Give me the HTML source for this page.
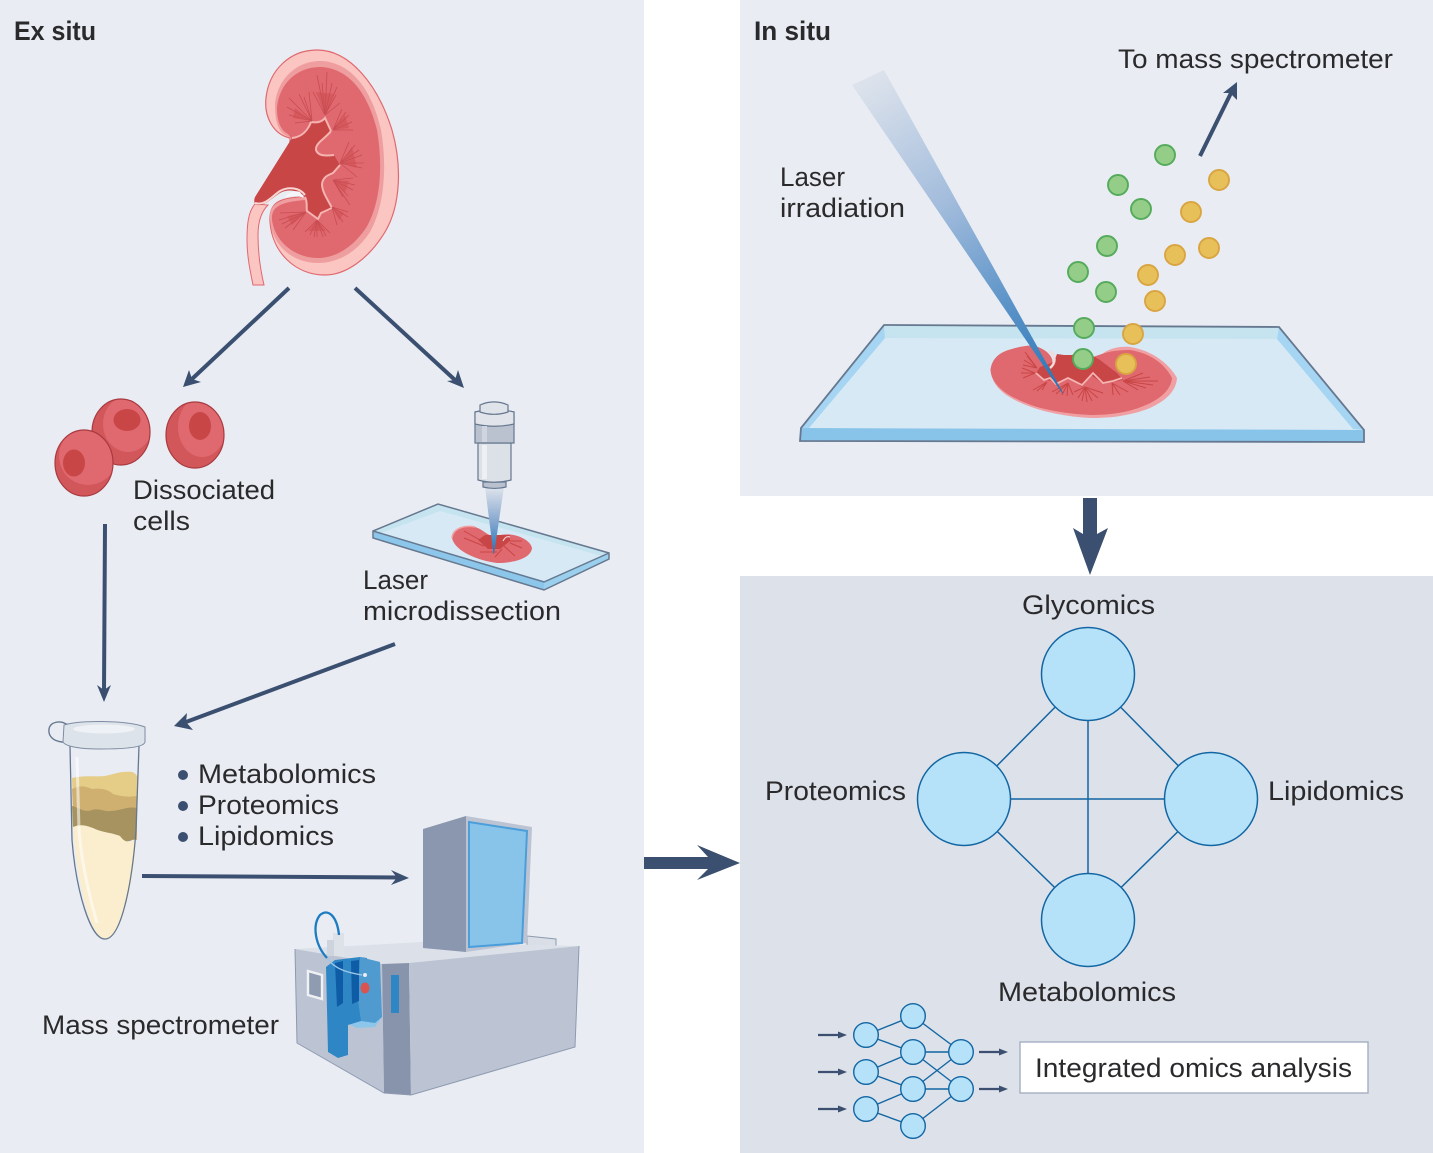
<!DOCTYPE html>
<html><head><meta charset="utf-8">
<style>
html,body{margin:0;padding:0;background:#fff}
svg{display:block}
text{font-family:"Liberation Sans",sans-serif;font-size:27px;fill:#2a2a2c}
</style></head>
<body>
<svg width="1433" height="1153" viewBox="0 0 1433 1153" xmlns="http://www.w3.org/2000/svg">
<defs>
<linearGradient id="b1" gradientUnits="userSpaceOnUse" x1="868" y1="78" x2="1063" y2="393"><stop offset="0" stop-color="#dde3ec"/><stop offset=".4" stop-color="#a2bcdc"/><stop offset=".72" stop-color="#5b93c8"/><stop offset=".88" stop-color="#3e82bd"/><stop offset="1" stop-color="#1b75bb"/></linearGradient>
<linearGradient id="b2" x1="0" y1="0" x2="0" y2="1"><stop offset="0" stop-color="#dfe4ec"/><stop offset=".55" stop-color="#7fa3cd"/><stop offset="1" stop-color="#1b75bb"/></linearGradient>
<clipPath id="c1"><ellipse cx="121" cy="432" rx="29" ry="33"/></clipPath>
<clipPath id="c2"><ellipse cx="84" cy="463" rx="29" ry="33"/></clipPath>
<clipPath id="c3"><ellipse cx="195" cy="435" rx="29" ry="33"/></clipPath>
</defs>
<rect width="1433" height="1153" fill="#fff"/>
<rect x="0" y="0" width="644" height="1153" fill="#e9edf3"/>
<rect x="740" y="0" width="693" height="496" fill="#e9edf3"/>
<rect x="740" y="576" width="693" height="577" fill="#dde1ea"/>

<!-- kidney -->
<path d="M255 204 C248 212 247 225 247 240 C247 256 250 270 253 285 L264 285 C260 268 258 250 258 235 C258 222 261 212 268 205 Z" fill="#fbc5c1" stroke="#e0686f" stroke-width="1"/>
<path d="M290 138 C272 134 264 115 266 98 C269 70 290 50 317 50 C350 50 378 85 392 130 C402 165 401 205 385 232 C368 260 345 275 325 275 C295 275 272 252 270 222 C269 205 276 197 305 197 L290 165 Z" fill="#fbc5c1" stroke="#e0686f" stroke-width="1.2"/>
<path d="M290 137 C280 135 275 125 275 105 C277 78 298 60 322 61 C352 63 372 90 381 130 C387 165 385 205 370 232 C355 255 335 263 318 263 C292 263 272 245 270 220 C269 205 276 199 305 197 L300 150 Z" fill="#ef9ea0"/>
<path d="M288 134 C280 130 277 120 277 108 C279 83 298 66 322 67 C349 69 368 93 377 130 C383 165 381 203 366 228 C351 250 333 258 318 258 C295 258 275 242 272 220 C271 207 280 202 305 200 L300 150 Z" fill="#e0686f"/>
<path d="M292 138 L255 197 C253 202 255 206 260 205 C267 204 272 198 280 193 C289 188 300 191 305 197 C308 203 306 208 307 211 L318 219 L321 213 L332 210 C328 200 322 192 322 184 C323 177 328 175 333 173 L340 165 L334 155 C325 156 318 156 316 150 C315 143 326 138 331 131 L325 118 C322 122 317 123 312 122 L310 122 C308 130 302 137 292 138 Z" fill="#c84646"/>
<path d="M292 138 C302 137 308 130 311 122 C317 123 322 122 325 118 L331 131 M334 155 C325 156 318 156 316 150 C315 143 326 138 331 131 M340 165 L333 173 C328 175 323 177 322 184 C322 192 328 200 332 208 M332 208 L321 213 L318 219 L307 211 C306 208 308 203 305 197" fill="none" stroke="#f4b4b2" stroke-width="2"/>
<path d="M255 203 C265 206 271 197 280 191 C289 186 300 188 305 195" fill="none" stroke="#f9d6d3" stroke-width="2"/>
<path d="M284 198 C292 195 300 196 304 198 L300 192 C295 190 288 192 284 198 Z" fill="#f4f5f8"/>
<g fill="#c84646" opacity=".42">
<path d="M312 121L295 108L293 118Z M325 115L316 92L334 94Z M333 130L345 115L349 128Z M340 163L352 147L357 168Z M333 180L349 181L345 193Z M332 207L344 213L339 220Z M317 220L308 231L326 231Z M306 212L287 216L292 225Z"/>
</g>
<path d="M312 121L289 98M312 121L287 107M312 121L289 115M312 121L295 123M312 121L299 94M312 121L309 92M312 121L294 103M312 121L304 97M325 115L327 72M325 115L317 75M325 115L313 92M325 115L337 87M325 115L340 103M325 115L322 83M325 115L332 83M325 115L336 95M333 130L342 109M333 130L349 115M333 130L352 122M333 130L353 130M333 130L346 112M340 163L349 142M340 163L355 145M340 163L362 155M340 163L364 163M340 163L362 168M340 163L357 177M340 163L359 150M333 180L353 178M333 180L355 185M333 180L353 190M333 180L350 205M333 180L343 197M333 180L348 196M332 207L348 212M332 207L348 217M332 207L343 222M332 207L337 225M317 220L305 232M317 220L310 235M317 220L317 237M317 220L323 237M317 220L330 233M317 220L314 237M317 220L326 236M306 212L280 213M306 212L279 220M306 212L285 228M306 212L293 230M306 212L282 224" stroke="#c84d52" stroke-width=".8" fill="none"/>

<!-- arrows left -->
<g stroke="#3b4f70" stroke-width="4" fill="none">
<path d="M289 288 L192 379"/><path d="M355 288 L455 380"/><path d="M105 524 L104 692"/><path d="M395 644 L186 722"/><path d="M142 876 L399 877.5"/>
</g>
<g fill="#3b4f70">
<path d="M183 387 L189 370 L192 379 L201 382 Z"/><path d="M464 388 L447 381 L455 380 L458 370 Z"/><path d="M104 702 L97 685 L104 690 L111 685 Z"/><path d="M174 726 L187 713 L186 722 L193 730 Z"/><path d="M409 878 L391 870 L397 877.5 L391 885 Z"/>
<path d="M644 857 L708 857 L697 845 L740 863 L697 880 L708 869 L644 869 Z"/>
<path d="M1083 498 L1097 498 L1097 534 L1108 528 L1090 575 L1073 528 L1083 534 Z"/>
</g>

<!-- cells -->
<ellipse cx="121" cy="432" rx="29" ry="33" fill="#d2575b"/>
<ellipse cx="128" cy="424" rx="25" ry="28" fill="#e0686f" clip-path="url(#c1)"/>
<ellipse cx="121" cy="432" rx="29" ry="33" fill="none" stroke="#a83a40" stroke-width="1.2"/>
<ellipse cx="127" cy="420" rx="13.5" ry="11" fill="#c84646"/>
<ellipse cx="84" cy="463" rx="29" ry="33" fill="#d2575b"/>
<ellipse cx="88" cy="456" rx="29" ry="29" fill="#e0686f" clip-path="url(#c2)"/>
<ellipse cx="84" cy="463" rx="29" ry="33" fill="none" stroke="#a83a40" stroke-width="1.2"/>
<ellipse cx="74" cy="463" rx="11" ry="13.5" fill="#c84646"/>
<ellipse cx="195" cy="435" rx="29" ry="33" fill="#d2575b"/>
<ellipse cx="202" cy="427" rx="24" ry="30" fill="#e0686f" clip-path="url(#c3)"/>
<ellipse cx="195" cy="435" rx="29" ry="33" fill="none" stroke="#a83a40" stroke-width="1.2"/>
<ellipse cx="200" cy="426" rx="11" ry="14" fill="#c84646"/>

<!-- slide small -->
<path d="M373 531 L438 504 L609 553 L544 584 Z" fill="#d7e9f5"/>
<path d="M381 533 L440 511 L602 556 L609 553 L438 504 L373 531 Z" fill="#c5e4f0"/>
<path d="M373 531 L544 581 L544 590 L373 538 Z" fill="#8cc6ea"/>
<path d="M544 581 L609 553 L609 559 L544 590 Z" fill="#9ad0ee"/>
<path d="M373 531 L438 504 L609 553 L609 559 L544 590 L373 538 Z M373 531 L544 582 L609 553" fill="none" stroke="#66788f" stroke-width="1.5"/>
<path d="M452 538 C453 528 465 525 475 527 C485 530 487 537 497 536 C510 531 530 538 532 548 C531 558 515 563 497 563 C480 561 455 552 452 538 Z" fill="#e0686f"/>
<path d="M452 538 C453 528 465 525 475 527" fill="none" stroke="#f0a0a3" stroke-width="1.5"/>
<path d="M485 535 L510 535 L510 541 L500 549 L488 549 L478 540 Z" fill="#c84646"/>
<path d="M480 540L464 531M484 546L464 538M497 552L480 552M502 549L495 557M504 546L515 556M510 543L522 548M510 541L522 541" stroke="#c84646" stroke-width="1" fill="none"/>
<path d="M503 541 C505 537 507 536 510 537" fill="none" stroke="#f6d8d7" stroke-width="1.2"/>
<path d="M485 487 L504 487 L494 554 L493.5 554 Z" fill="url(#b2)"/>
<!-- objective -->
<g stroke="#66788f" stroke-width="1.2">
<path d="M483 482 H506 V487 C498 489 491 489 483 487 Z" fill="#b9c1cf"/>
<path d="M478 443 H511 V480 C500 483 489 483 478 480 Z" fill="#dce0e7"/>
<path d="M475 412 C488 409 501 409 514 412 V443 H475 Z" fill="#bac2cf"/>
<path d="M475 412 C488 409 501 409 514 412 V424 C501 427 488 427 475 424 Z" fill="#e1e5eb"/>
<path d="M480 405 C489 401 499 401 508 405 V412 C499 415 489 415 480 412 Z" fill="#dfe3ea"/>
</g>
<rect x="482" y="445" width="5" height="34" fill="#eef0f3"/>
<rect x="482" y="426" width="5" height="16" fill="#cfd5de"/>

<!-- tube -->
<path d="M70 746 L72 840 C76 890 90 939 105 939 C121 939 132 885 136 830 L139 746 Z" fill="#e9edf3"/>
<path d="M72 778 C85 775 95 777 105 776 C115 774 120 771 132 772 C136 773 136 776 138 776 L137 830 C132 840 100 828 74 828 Z" fill="#e5cd87"/>
<path d="M72 789 C80 785 85 786 92 789 C100 788 108 789 113 794 C123 797 130 797 137 796 L137 840 L74 838 Z" fill="#cfb070"/>
<path d="M72 806 C80 808 84 813 92 810 C100 808 104 812 110 811 C120 811 127 806 137 808 L136 838 C130 842 125 842 122 840 C115 832 110 834 103 833 C95 828 85 829 73 827 Z" fill="#a7935f"/>
<path d="M73 827 C80 824 85 825 93 828 C103 833 110 832 120 836 C125 843 130 843 136 840 C133 890 120 939 105 939 C90 939 77 880 73 827 Z" fill="#fbeecf"/>
<path d="M77 757 L79 830 C82 870 92 905 97 923" stroke="#ffffff" stroke-opacity=".55" stroke-width="3" fill="none"/>
<path d="M70 746 L72 840 C76 890 90 939 105 939 C121 939 132 885 136 830 L139 746" fill="none" stroke="#66788f" stroke-width="1.3"/>
<path d="M66 724 C60 720 50 722 49 729 C48 736 53 741 62 742 L72 744 L72 725 Z" fill="#e9edf3" stroke="#66788f" stroke-width="1.4"/>
<path d="M64 725 C80 720 125 720 145 727 L145 742 C144 748 120 749 100 749 C82 749 66 747 63 742 Z" fill="#dde3ea" stroke="#7f8ca3" stroke-width="1"/>
<ellipse cx="104" cy="729" rx="31" ry="4.5" fill="#eef1f5"/>

<!-- mass spec -->
<path d="M527 936 L556 939 L556 946 L527 946 Z" fill="#d9dee7" stroke="#8e9ab0" stroke-width="1"/>
<path d="M295 949 L422 942 L579 946 L409 963 L382 964 Z" fill="#dbe0e9"/>
<path d="M295 949 L382 964 L384 1093 L297 1043 Z" fill="#bcc4d3"/>
<path d="M382 964 L409 963 L411 1095 L384 1093 Z" fill="#8894ac"/>
<path d="M409 963 L579 946 L575 1047 L411 1095 Z" fill="#bcc4d3"/>
<path d="M295 949 L297 1043 L384 1093 L411 1095 L575 1047 L579 946" fill="none" stroke="#8e9ab0" stroke-width="1"/>
<path d="M466 816 L532 827 L527 943 L466 952 Z" fill="#bcc4d3"/>
<path d="M423 829 L466 816 L466 952 L423 948 Z" fill="#8b97ae"/>
<path d="M469 822 L527 831 L522 943 L469 947 Z" fill="#88c4ea" stroke="#4b9ed9" stroke-width="2"/>
<path d="M308 971 L322 975 L322 999 L308 995 Z" fill="#8f9bb1" stroke="#f0f2f5" stroke-width="2.4"/>
<rect x="391" y="975" width="8" height="38" fill="#2f86c5"/>
<rect x="333" y="933" width="11" height="23" fill="#dde1e8"/><rect x="327" y="940" width="7" height="16" fill="#ced4de"/>
<path d="M357 1020 L382 1017 L375 1027 L357 1028 L348 1024 Z" fill="#8cc6ea"/>
<path d="M326 967 L335 960 L360 957 L367 958 L361 1021 L348 1025 L348 1055 L338 1058 L328 1052 Z" fill="#2f86c5"/>
<path d="M360 957 L380 962 L382 1017 L375 1023 L361 1021 L358 1000 Z" fill="#4f9bd0"/>
<path d="M335 963 L343 961 L343 1003 L337 1007 Z M351 961 L359 960 L359 1001 L352 1004 Z" fill="#0d5ca5"/>
<ellipse cx="365" cy="988" rx="4.5" ry="5.5" fill="#d9534f"/>
<circle cx="365" cy="975" r="2" fill="#e9edf3"/>
<path d="M327 958 C315 945 312 925 320 915 C328 908 337 916 339 935" fill="none" stroke="#1d7cc1" stroke-width="2.3"/>
<path d="M327 958 C335 970 350 973 362 975" fill="none" stroke="#9cc9e8" stroke-width="1.4"/>

<!-- in situ slide -->
<path d="M800 429 L886 325 L1279 327 L1364 430 L1364 442 L800 441 Z" fill="#d7e9f5"/>
<path d="M884 326 L1279 327 L1277 339 L885 338 Z" fill="#c5e4f0"/>
<path d="M884 326 L885 338 L809 428 L800 428 Z" fill="#a5d5f3"/>
<path d="M1279 327 L1277 339 L1353 429 L1364 430 Z" fill="#a5d5f3"/>
<path d="M801 428 L1364 430 L1364 442 L800 441 Z" fill="#88c3e9"/>
<path d="M800 441 L801 428 L884 325 L1279 327 L1364 430 L1364 442 Z" fill="none" stroke="#66788f" stroke-width="1.8"/>
<path d="M990.5 370 C992 358 1000 352 1012 349 C1022 346 1030 345 1035 346 C1045 349 1050 354 1052 359 L1053 367 L1090 358 L1102 354 C1110 348 1120 346 1130 347 C1150 350 1168 362 1177 378 C1176 392 1165 401 1150 408 C1130 416 1110 418 1091 418 C1068 417 1045 412 1031 407 C1012 400 992 390 990.5 370 Z" fill="#f0a0a3"/>
<path d="M990.5 370 C992 358 1000 352 1012 349 C1022 346 1030 345 1035 346 C1045 349 1050 354 1052 359 L1053 367 L1090 358 L1102 354 C1110 351 1120 350 1130 350 C1150 353 1165 364 1172 378 C1171 390 1160 399 1146 405 C1128 413 1108 415 1091 415 C1068 414 1045 410 1031 405 C1012 398 992 388 990.5 370 Z" fill="#e0686f"/>
<path d="M1040 367 L1054 362 L1057 354 L1064 355 L1072 355 L1082 350 L1100 360 L1117 373 L1123 380 L1113 382 L1102 383 L1091 375 L1082 387 L1070 378 L1057 382 L1046 380 L1036 373 Z" fill="#c84646"/>
<path d="M1036 373 L1044 380 L1050 378 L1056 384 L1068 378 L1082 385 L1093 373 L1103 383 L1113 381 L1122 378" fill="none" stroke="#f4b4b2" stroke-width="1.8"/>
<path d="M1050 351 C1056 356 1056 363 1050 368" fill="none" stroke="#f6d8d7" stroke-width="2.5"/>
<path d="M1037 368L1025 352M1037 368L1023 365M1037 368L1027 356M1037 368L1024 360M1035 373L1022 368M1035 373L1023 378M1035 373L1021 373M1047 382L1033 390M1047 382L1042 390M1047 382L1037 391M1068 383L1052 392M1068 383L1062 395M1068 383L1073 395M1068 383L1056 394M1068 383L1067 396M1085 387L1074 392M1085 387L1078 398M1085 387L1082 401M1085 387L1087 402M1085 387L1092 401M1085 387L1098 398M1085 387L1103 393M1112 383L1113 395M1112 383L1128 392M1112 383L1120 395M1123 381L1158 381M1123 381L1143 373M1123 381L1153 385M1123 381L1138 390M1123 381L1150 377M1123 381L1146 388" stroke="#c84646" stroke-width="1" fill="none"/>
<path d="M852 85 L884 70 L1063 393 L1062 393 Z" fill="url(#b1)"/>

<g fill="#94cd88" stroke="#55ab5b" stroke-width="1.9">
<circle cx="1165" cy="155" r="10"/><circle cx="1118" cy="185" r="10"/><circle cx="1141" cy="209" r="10"/><circle cx="1107" cy="246" r="10"/><circle cx="1078" cy="272" r="10"/><circle cx="1106" cy="292" r="10"/><circle cx="1084" cy="328" r="10"/><circle cx="1083" cy="359" r="10"/>
</g>
<g fill="#e8c059" stroke="#d9a542" stroke-width="1.9">
<circle cx="1219" cy="180" r="10"/><circle cx="1191" cy="212" r="10"/><circle cx="1209" cy="248" r="10"/><circle cx="1175" cy="255" r="10"/><circle cx="1148" cy="275" r="10"/><circle cx="1155" cy="301" r="10"/><circle cx="1133" cy="334" r="10"/><circle cx="1126" cy="364" r="10"/>
</g>
<path d="M1200 156 L1231 93" stroke="#3b4f70" stroke-width="4" fill="none"/>
<path d="M1237 82 L1223 93 L1230 93 L1237 100 Z" fill="#3b4f70"/>

<!-- omics network -->
<g stroke="#1266a3" stroke-width="1.5" fill="none">
<path d="M1088 674 L1088 920 M964 799 L1211 799 M1088 674 L964 799 M1088 674 L1211 799 M964 799 L1088 920 M1211 799 L1088 920"/>
</g>
<g fill="#b5e2f8" stroke="#1266a3" stroke-width="1.5">
<circle cx="1088" cy="674" r="46.5"/><circle cx="964" cy="799" r="46.5"/><circle cx="1211" cy="799" r="46.5"/><circle cx="1088" cy="920" r="46.5"/>
</g>
<g stroke="#1266a3" stroke-width="1.4" fill="none">
<path d="M866 1035L913 1016M866 1035L913 1052M866 1072L913 1052M866 1072L913 1089M866 1109L913 1089M866 1109L913 1126M913 1016L961 1052M913 1052L961 1052M913 1052L961 1089M913 1089L961 1052M913 1089L961 1089M913 1126L961 1089"/>
</g>
<g fill="#b5e2f8" stroke="#1266a3" stroke-width="1.4">
<circle cx="866" cy="1035" r="12.3"/><circle cx="866" cy="1072" r="12.3"/><circle cx="866" cy="1109" r="12.3"/>
<circle cx="913" cy="1016" r="12.3"/><circle cx="913" cy="1052" r="12.3"/><circle cx="913" cy="1089" r="12.3"/><circle cx="913" cy="1126" r="12.3"/>
<circle cx="961" cy="1052" r="12.3"/><circle cx="961" cy="1089" r="12.3"/>
</g>
<g stroke="#3b4f70" stroke-width="2.2" fill="none">
<path d="M818 1035H840M818 1072H840M818 1109H840M979 1052H1000M979 1089H1000"/>
</g>
<g fill="#3b4f70">
<path d="M847 1035L838 1031.5V1038.5Z M847 1072L838 1068.5V1075.5Z M847 1109L838 1105.5V1112.5Z M1008 1052L999 1048.5V1055.5Z M1008 1089L999 1085.5V1092.5Z"/>
</g>
<rect x="1020" y="1042" width="348" height="51" fill="#fff" stroke="#a5afc2" stroke-width="1.4"/>

<!-- text -->
<text x="14" y="40" textLength="82" lengthAdjust="spacingAndGlyphs" style="font-weight:700">Ex situ</text>
<text x="754" y="40" textLength="77" lengthAdjust="spacingAndGlyphs" style="font-weight:700">In situ</text>
<text x="133" y="499" textLength="142" lengthAdjust="spacingAndGlyphs">Dissociated</text>
<text x="133" y="530" textLength="57" lengthAdjust="spacingAndGlyphs">cells</text>
<text x="363" y="589" textLength="65" lengthAdjust="spacingAndGlyphs">Laser</text>
<text x="363" y="620" textLength="198" lengthAdjust="spacingAndGlyphs">microdissection</text>
<circle cx="183" cy="775" r="5" fill="#3b4f70"/><circle cx="183" cy="806" r="5" fill="#3b4f70"/><circle cx="183" cy="837" r="5" fill="#3b4f70"/>
<text x="198" y="783" textLength="178" lengthAdjust="spacingAndGlyphs">Metabolomics</text>
<text x="198" y="814" textLength="141" lengthAdjust="spacingAndGlyphs">Proteomics</text>
<text x="198" y="845" textLength="136" lengthAdjust="spacingAndGlyphs">Lipidomics</text>
<text x="42" y="1034" textLength="237" lengthAdjust="spacingAndGlyphs">Mass spectrometer</text>
<text x="1118" y="68" textLength="275" lengthAdjust="spacingAndGlyphs">To mass spectrometer</text>
<text x="780" y="186" textLength="65" lengthAdjust="spacingAndGlyphs">Laser</text>
<text x="780" y="217" textLength="125" lengthAdjust="spacingAndGlyphs">irradiation</text>
<text x="1022" y="614" textLength="133" lengthAdjust="spacingAndGlyphs">Glycomics</text>
<text x="765" y="800" textLength="141" lengthAdjust="spacingAndGlyphs">Proteomics</text>
<text x="1268" y="800" textLength="136" lengthAdjust="spacingAndGlyphs">Lipidomics</text>
<text x="998" y="1001" textLength="178" lengthAdjust="spacingAndGlyphs">Metabolomics</text>
<text x="1035" y="1077" textLength="317" lengthAdjust="spacingAndGlyphs">Integrated omics analysis</text>
</svg>
</body></html>
